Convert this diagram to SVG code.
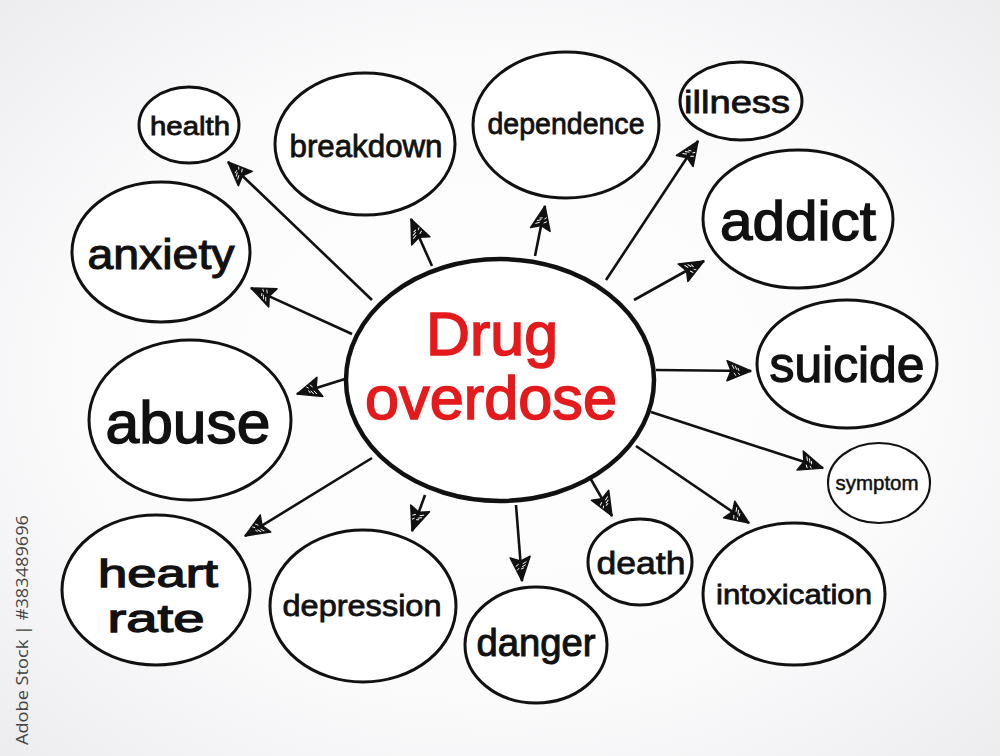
<svg xmlns="http://www.w3.org/2000/svg" width="1000" height="756" viewBox="0 0 1000 756">
<defs>
<radialGradient id="bg" cx="50%" cy="50%" r="70%">
<stop offset="0" stop-color="#ffffff"/>
<stop offset="0.6" stop-color="#fbfbfc"/>
<stop offset="1" stop-color="#ededf0"/>
</radialGradient>
<marker id="ah" markerUnits="userSpaceOnUse" viewBox="0 0 26 22" refX="25" refY="11" markerWidth="26" markerHeight="22" orient="auto">
<path d="M1,1 L25,11 L1,21 L5,11 Z" fill="#111" stroke="#111" stroke-width="1.5" stroke-linejoin="round"/>
<path d="M6,5 L8,9 M9,6 L11,10 M12,8 L13,11 M8,13 L10,16 M12,13 L14,15" stroke="#fff" stroke-width="0.9" fill="none"/>
</marker>
<style>
.n{fill:#fff;stroke:#111;stroke-width:3}
.t{font-family:"Liberation Sans",Arial,sans-serif;fill:#111;stroke:#111;stroke-width:0.8;text-anchor:middle}
.r{fill:#e41a1c;stroke:#e41a1c;stroke-width:1.6;font-size:62px}
.c line{stroke:#111;stroke-width:2.6;marker-end:url(#ah)}
</style>
</defs>
<rect width="1000" height="756" fill="url(#bg)"/>
<g class="c" id="connectors">
<line x1="372" y1="300" x2="228" y2="162"/>
<line x1="432" y1="266" x2="411" y2="219"/>
<line x1="535" y1="256" x2="545" y2="206"/>
<line x1="606" y1="280" x2="698" y2="141"/>
<line x1="634" y1="300" x2="704" y2="261"/>
<line x1="352" y1="334" x2="251" y2="288"/>
<line x1="656" y1="370" x2="751" y2="371"/>
<line x1="345" y1="379" x2="297" y2="394"/>
<line x1="651" y1="412" x2="823" y2="468"/>
<line x1="372" y1="458" x2="245" y2="536"/>
<line x1="425" y1="495" x2="412" y2="531"/>
<line x1="516" y1="505" x2="522" y2="581"/>
<line x1="589" y1="476" x2="612" y2="516"/>
<line x1="636" y1="446" x2="749" y2="523"/>
</g>
<g id="center">
<ellipse cx="500" cy="380" rx="154" ry="121" fill="#fff" stroke="#111" stroke-width="4.5"/>
<text x="492" y="355" class="t r" textLength="132" lengthAdjust="spacingAndGlyphs">Drug</text>
<text x="491" y="419" class="t r" textLength="252" lengthAdjust="spacingAndGlyphs">overdose</text>
</g>
<g id="health"><ellipse class="n" cx="189" cy="125" rx="50" ry="38"/><text x="190" y="135" class="t" style="font-size:26px" textLength="80" lengthAdjust="spacingAndGlyphs">health</text></g>
<g id="breakdown"><ellipse class="n" cx="365" cy="144" rx="90" ry="71"/><text x="366" y="157" class="t" style="font-size:31px" textLength="153" lengthAdjust="spacingAndGlyphs">breakdown</text></g>
<g id="dependence"><ellipse class="n" cx="566" cy="125" rx="93" ry="73"/><text x="566" y="134" class="t" style="font-size:30px" textLength="157" lengthAdjust="spacingAndGlyphs">dependence</text></g>
<g id="illness"><ellipse class="n" cx="741" cy="101" rx="61" ry="39"/><text x="737" y="113" class="t" style="font-size:32px" textLength="106" lengthAdjust="spacingAndGlyphs">illness</text></g>
<g id="addict"><ellipse class="n" cx="798" cy="219" rx="95" ry="69"/><text x="798" y="240" class="t" style="font-size:56px;stroke-width:1.4" textLength="156" lengthAdjust="spacingAndGlyphs">addict</text></g>
<g id="anxiety"><ellipse class="n" cx="161" cy="252" rx="89" ry="70"/><text x="161" y="269" class="t" style="font-size:42px;stroke-width:1.1" textLength="147" lengthAdjust="spacingAndGlyphs">anxiety</text></g>
<g id="suicide"><ellipse class="n" cx="847" cy="364" rx="90" ry="64"/><text x="847" y="382" class="t" style="font-size:50px;stroke-width:1.3" textLength="155" lengthAdjust="spacingAndGlyphs">suicide</text></g>
<g id="abuse"><ellipse class="n" cx="190" cy="420" rx="101" ry="80"/><text x="188" y="443" class="t" style="font-size:60px;stroke-width:1.5" textLength="165" lengthAdjust="spacingAndGlyphs">abuse</text></g>
<g id="symptom"><ellipse class="n" cx="879" cy="483" rx="51" ry="40" style="stroke-width:2.2"/><text x="877" y="490" class="t" style="font-size:20px;stroke-width:0.5" textLength="83" lengthAdjust="spacingAndGlyphs">symptom</text></g>
<g id="heartrate"><ellipse class="n" cx="156" cy="590" rx="94" ry="75"/><text x="158" y="587" class="t" style="font-size:39px;stroke-width:1.3" textLength="120" lengthAdjust="spacingAndGlyphs">heart</text><text x="156" y="632" class="t" style="font-size:39px;stroke-width:1.3" textLength="97" lengthAdjust="spacingAndGlyphs">rate</text></g>
<g id="depression"><ellipse class="n" cx="363" cy="606" rx="93" ry="76"/><text x="362" y="616" class="t" style="font-size:30px" textLength="159" lengthAdjust="spacingAndGlyphs">depression</text></g>
<g id="danger"><ellipse class="n" cx="536" cy="645" rx="71" ry="58"/><text x="536" y="656" class="t" style="font-size:38px;stroke-width:1" textLength="119" lengthAdjust="spacingAndGlyphs">danger</text></g>
<g id="death"><ellipse class="n" cx="640" cy="562" rx="52" ry="43"/><text x="641" y="574" class="t" style="font-size:32px" textLength="89" lengthAdjust="spacingAndGlyphs">death</text></g>
<g id="intoxication"><ellipse class="n" cx="794" cy="594" rx="91" ry="71"/><text x="794" y="604" class="t" style="font-size:28px" textLength="156" lengthAdjust="spacingAndGlyphs">intoxication</text></g>
<text transform="translate(28,630) rotate(-90)" style="font-family:'Open Sans','Liberation Sans',sans-serif;font-size:16px;fill:#444;text-anchor:middle" textLength="230" lengthAdjust="spacingAndGlyphs">Adobe Stock | #383489696</text>
</svg>
